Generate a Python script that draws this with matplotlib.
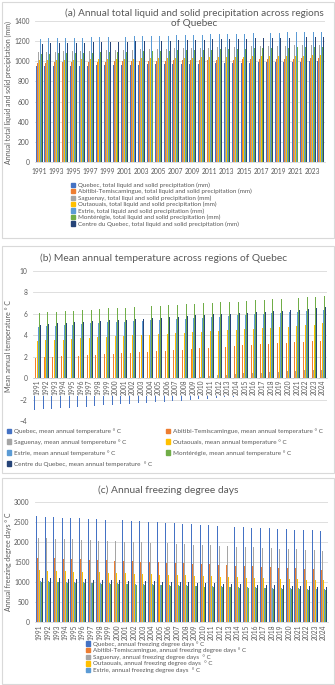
import matplotlib
matplotlib.use("Agg")
import matplotlib.pyplot as plt
from matplotlib.patches import Patch, Rectangle

# ---------------- data ----------------
years = [str(y) for y in range(1991, 2025)]

colors = ["#4472C4", "#ED7D31", "#A5A5A5", "#FFC000", "#5B9BD5", "#70AD47", "#264478"]

# (a) Annual total liquid and solid precipitation (mm)
quebec_p = [950, 950, 952, 954, 955, 957, 958, 960, 961, 963, 965, 966, 968, 969, 970, 972, 973, 975, 976, 978,
            979, 981, 982, 984, 985, 987, 988, 990, 991, 993, 994, 996, 998, 1000]
abitibi_p = [985, 987, 988, 990, 991, 993, 994, 996, 997, 998, 1000, 1001, 1003, 1004, 1005, 1007, 1008, 1009,
             1011, 1012, 1013, 1015, 1016, 1017, 1019, 1020, 1021, 1023, 1024, 1025, 1027, 1028, 1029, 1031]
saguenay_p = [1093, 1095, 1097, 1099, 1101, 1104, 1106, 1108, 1110, 1112, 1114, 1117, 1119, 1121, 1123, 1125,
              1127, 1130, 1132, 1134, 1136, 1138, 1140, 1143, 1145, 1147, 1149, 1151, 1153, 1156, 1158, 1160, 1162, 1165]
outaouais_p = [1010, 1012, 1013, 1015, 1016, 1018, 1019, 1021, 1022, 1024, 1025, 1027, 1028, 1030, 1031, 1033,
               1034, 1036, 1037, 1039, 1040, 1042, 1043, 1045, 1046, 1048, 1049, 1051, 1052, 1054, 1055, 1057, 1059, 1061]
estrie_p = [1225, 1227, 1229, 1231, 1233, 1235, 1237, 1240, 1242, 1244, 1246, 1248, 1250, 1252, 1254, 1256,
            1258, 1261, 1263, 1265, 1267, 1269, 1271, 1273, 1275, 1277, 1279, 1282, 1284, 1286, 1288, 1290, 1292, 1295]
monteregie_p = [1075, 1077, 1079, 1081, 1083, 1085, 1087, 1090, 1092, 1094, 1096, 1098, 1100, 1102, 1104, 1106,
                1108, 1111, 1113, 1115, 1117, 1119, 1121, 1123, 1125, 1127, 1129, 1132, 1134, 1136, 1138, 1140, 1142, 1145]
centre_p = [1175, 1177, 1179, 1181, 1183, 1185, 1187, 1190, 1192, 1194, 1196, 1198, 1200, 1202, 1204, 1206,
            1208, 1211, 1213, 1215, 1217, 1219, 1221, 1223, 1225, 1227, 1229, 1232, 1234, 1236, 1238, 1240, 1242, 1245]

# (b) Mean annual temperature (deg C)
quebec_t = [-2.95, -2.9, -2.85, -2.8, -2.75, -2.7, -2.65, -2.6, -2.55, -2.5, -2.45, -2.4, -2.35, -2.3, -2.25, -2.2,
            -2.15, -2.1, -2.0, -1.95, -1.9, -1.85, -1.8, -1.75, -1.7, -1.65, -1.6, -1.57, -1.52, -1.48, -1.43, -1.39,
            -1.35, -1.3]
abitibi_t = [1.9, 1.95, 2.0, 2.05, 2.05, 2.1, 2.15, 2.2, 2.25, 2.25, 2.3, 2.35, 2.4, 2.45, 2.5, 2.55, 2.6, 2.65,
             2.75, 2.8, 2.85, 2.9, 2.95, 3.0, 3.05, 3.1, 3.15, 3.2, 3.25, 3.3, 3.35, 3.4, 3.45, 3.5]
saguenay_t = [-0.6, -0.55, -0.5, -0.5, -0.45, -0.4, -0.35, -0.3, -0.3, -0.25, -0.2, -0.15, -0.1, -0.05, 0.0, 0.0,
              0.05, 0.05, 0.1, 0.15, 0.2, 0.25, 0.3, 0.4, 0.45, 0.5, 0.5, 0.55, 0.6, 0.65, 0.7, 0.75, 0.8, 0.8]
outaouais_t = [3.5, 3.55, 3.55, 3.6, 3.65, 3.7, 3.75, 3.8, 3.85, 3.9, 3.95, 4.0, 4.0, 4.05, 4.1, 4.15, 4.2, 4.25,
               4.3, 4.35, 4.4, 4.4, 4.45, 4.5, 4.55, 4.6, 4.65, 4.7, 4.75, 4.8, 4.85, 4.95, 5.0, 5.1]
estrie_t = [4.8, 4.85, 4.9, 4.95, 5.0, 5.05, 5.1, 5.15, 5.2, 5.25, 5.25, 5.3, 5.35, 5.4, 5.45, 5.5, 5.5, 5.55,
            5.6, 5.65, 5.7, 5.75, 5.8, 5.85, 5.9, 5.95, 6.0, 6.05, 6.1, 6.15, 6.2, 6.25, 6.3, 6.4]
monteregie_t = [6.1, 6.15, 6.2, 6.25, 6.3, 6.35, 6.4, 6.45, 6.5, 6.55, 6.55, 6.6, 6.65, 6.7, 6.75, 6.8, 6.85, 6.9,
                6.95, 7.0, 7.05, 7.1, 7.1, 7.15, 7.2, 7.25, 7.3, 7.35, 7.4, 7.45, 7.5, 7.55, 7.6, 7.7]
centre_t = [5.0, 5.05, 5.1, 5.15, 5.2, 5.25, 5.3, 5.35, 5.4, 5.45, 5.45, 5.5, 5.55, 5.6, 5.65, 5.7, 5.75, 5.8,
            5.85, 5.9, 5.95, 6.0, 6.0, 6.05, 6.1, 6.15, 6.2, 6.25, 6.3, 6.35, 6.4, 6.45, 6.5, 6.6]

# (c) Annual freezing degree days
quebec_f = [2640, 2630, 2620, 2610, 2600, 2590, 2580, 2570, 2560, 2550, 2540, 2525, 2515, 2500, 2490, 2475,
            2465, 2450, 2440, 2430, 2415, 2405, 2395, 2385, 2370, 2360, 2350, 2340, 2330, 2320, 2310, 2300, 2290, 2280]
abitibi_f = [1610, 1600, 1595, 1585, 1575, 1570, 1560, 1550, 1545, 1535, 1525, 1520, 1510, 1500, 1495, 1485,
             1475, 1465, 1455, 1450, 1440, 1430, 1420, 1410, 1400, 1390, 1380, 1370, 1360, 1350, 1340, 1330, 1320, 1310]
saguenay_f = [2100, 2090, 2080, 2075, 2065, 2055, 2045, 2035, 2030, 2020, 2010, 2000, 1990, 1980, 1975, 1965,
              1955, 1945, 1935, 1925, 1915, 1905, 1895, 1885, 1875, 1865, 1855, 1845, 1835, 1825, 1815, 1805, 1795, 1780]
outaouais_f = [1290, 1285, 1275, 1270, 1260, 1255, 1245, 1240, 1230, 1225, 1215, 1210, 1200, 1195, 1185, 1180,
               1170, 1165, 1155, 1150, 1140, 1135, 1125, 1120, 1110, 1105, 1095, 1090, 1080, 1075, 1065, 1060, 1050, 1040]
estrie_f = [1020, 1015, 1010, 1005, 995, 990, 985, 980, 975, 965, 960, 955, 950, 945, 935, 930, 925, 920, 910,
            905, 900, 895, 885, 880, 875, 870, 860, 855, 850, 845, 840, 835, 825, 820]
monteregie_f = [1000, 995, 990, 985, 975, 970, 965, 960, 950, 945, 940, 935, 925, 920, 915, 910, 900, 895, 890,
                885, 875, 870, 865, 860, 850, 845, 840, 835, 825, 820, 815, 805, 800, 790]
centre_f = [1100, 1095, 1090, 1080, 1075, 1070, 1060, 1055, 1050, 1040, 1035, 1030, 1020, 1015, 1010, 1000, 995,
            990, 980, 975, 970, 960, 955, 950, 940, 935, 930, 920, 915, 910, 900, 895, 885, 870]

labels_a = ["Quebec, total liquid and solid precipitation (mm)",
            "Abitibi-Temiscamingue, total liquid and solid precipitation (mm)",
            "Saguenay, total liqui and solid precipitation (mm)",
            "Outaouais, total liquid and solid precipitation (mm)",
            "Estrie, total liquid and solid precipitation (mm)",
            "Montérégie, total liquid and solid precipitation (mm)",
            "Centre du Quebec, total liquid and solid precipitation (mm)"]
labels_b = ["Quebec, mean annual temperature ° C",
            "Abitibi-Temiscamingue, mean annual temperature ° C",
            "Saguenay, mean annual tempereture ° C",
            "Outaouais, mean annual temperature ° C",
            "Estrie, mean annual temperature ° C",
            "Montérégie, mean annual temperature ° C",
            "Centre du Quebec, mean annual temperature  ° C"]
labels_c = ["Quebec, annual freezing degree days ° C",
            "Abitibi-Temiscamingue, annual freezing degree days ° C",
            "Saguenay, annual freezing degree days  ° C",
            "Outaouais, annual freezing degree days  ° C",
            "Estrie, annual freezing degree days  ° C",
            "Montérégie, annual freezing degree days  ° C",
            "Centre du Quebec, annual freezing degree days  ° C"]

yticks_a = [0, 200, 400, 600, 800, 1000, 1200, 1400]
yticks_b = [-4, -2, 0, 2, 4, 6, 8, 10]
yticks_c = [0, 500, 1000, 1500, 2000, 2500, 3000]

# ---------------- layout ----------------
plt.rcParams['font.family'] = ['Lato', 'DejaVu Sans']
TXT = "#595959"
GRID = "#D9D9D9"
W, H = 335, 685
fig = plt.figure(figsize=(W / 100, H / 100), dpi=100)


def rect(x0, y0, x1, y1):
    return [x0 / W, 1 - y1 / H, (x1 - x0) / W, (y1 - y0) / H]


def frame(y0, y1):
    fig.add_artist(Rectangle((1.5 / W, 1 - y1 / H), 332 / W, (y1 - y0) / H, transform=fig.transFigure,
                             fill=False, edgecolor=GRID, lw=0.8))


def bars(ax, series, ylim, yticks):
    n = len(series)
    gw = 0.78
    w = gw / n
    x = list(range(len(years)))
    for i, (vals, c) in enumerate(zip(series, colors)):
        ax.bar([xi + (i - (n - 1) / 2) * w for xi in x], vals, w, color=c, linewidth=0, zorder=2)
    ax.set_xlim(-0.5, len(years) - 0.5)
    ax.set_ylim(*ylim)
    ax.set_yticks(yticks)
    for yv in yticks:
        ax.axhline(yv, color=GRID, lw=0.6, zorder=0.5)
    ax.set_axisbelow(False)
    for s in ["top", "right", "left"]:
        ax.spines[s].set_visible(False)
    ax.spines["bottom"].set_color(GRID)
    ax.spines["bottom"].set_linewidth(0.6)
    ax.tick_params(axis="y", length=0, labelsize=4.8, labelcolor=TXT, pad=4)
    ax.tick_params(axis="x", length=0, labelsize=4.8, labelcolor=TXT)
    return x


# Panel (a)
frame(1.5, 238)
axa = fig.add_axes(rect(35, 21, 325, 162))
x = bars(axa, [quebec_p, abitibi_p, saguenay_p, outaouais_p, estrie_p, monteregie_p, centre_p],
         (0, 1400), yticks_a)
axa.set_xticks(x[::2])
axa.set_xticklabels(years[::2])
axa.tick_params(axis="x", pad=4)
fig.text(194 / W, 1 - 18.5 / H, "(a) Annual total liquid and solid precipitation across regions\nof Quebec",
         ha="center", va="center", fontsize=7.2, color=TXT, linespacing=1.1)
fig.text(8 / W, 1 - 93 / H, "Annual total liquid and solid precipitation (mm)", rotation=90,
         ha="center", va="center", fontsize=5.0, color=TXT)
fig.legend([Patch(color=c) for c in colors], labels_a, loc="upper left",
           bbox_to_anchor=(71 / W, 1 - 182.5 / H), frameon=False, fontsize=4.5, labelcolor=TXT,
           handlelength=0.7, handleheight=0.7, handletextpad=0.4, labelspacing=0.15,
           borderpad=0, borderaxespad=0)

# Panel (b)
frame(246, 473)
axb = fig.add_axes(rect(33, 271, 327, 421))
x = bars(axb, [quebec_t, abitibi_t, saguenay_t, outaouais_t, estrie_t, monteregie_t, centre_t],
         (-4, 10), yticks_b)
axb.spines["bottom"].set_position(("data", 0))
axb.set_xticks(x)
axb.set_xticklabels(years, rotation=90)
axb.tick_params(axis="x", pad=1)
for lbl in axb.get_xticklabels():
    lbl.set_bbox(dict(facecolor="white", edgecolor="none", pad=0.6))
fig.text(164 / W, 1 - 258 / H, "(b) Mean annual temperature across regions of Quebec",
         ha="center", va="center", fontsize=7.4, color=TXT)
fig.text(9 / W, 1 - 346 / H, "Mean annual temperature ° C", rotation=90,
         ha="center", va="center", fontsize=5.0, color=TXT)
left_idx = [0, 2, 4, 6]
right_idx = [1, 3, 5]
fig.legend([Patch(color=colors[i]) for i in left_idx], [labels_b[i] for i in left_idx], loc="upper left",
           bbox_to_anchor=(7 / W, 1 - 428.5 / H), frameon=False, fontsize=4.6, labelcolor=TXT,
           handlelength=0.7, handleheight=0.7, handletextpad=0.4, labelspacing=0.8,
           borderpad=0, borderaxespad=0)
fig.legend([Patch(color=colors[i]) for i in right_idx], [labels_b[i] for i in right_idx], loc="upper left",
           bbox_to_anchor=(166 / W, 1 - 428.5 / H), frameon=False, fontsize=4.6, labelcolor=TXT,
           handlelength=0.7, handleheight=0.7, handletextpad=0.4, labelspacing=0.8,
           borderpad=0, borderaxespad=0)

# Panel (c)
frame(478, 683.5)
axc = fig.add_axes(rect(35, 502, 328, 622))
x = bars(axc, [quebec_f, abitibi_f, saguenay_f, outaouais_f, estrie_f, monteregie_f, centre_f],
         (0, 3000), yticks_c)
axc.set_xticks(x)
axc.set_xticklabels(years, rotation=90)
axc.tick_params(axis="x", pad=2)
fig.text(168 / W, 1 - 490 / H, "(c) Annual freezing degree days",
         ha="center", va="center", fontsize=7.4, color=TXT)
fig.text(9 / W, 1 - 562 / H, "Annual freezing degree days ° C", rotation=90,
         ha="center", va="center", fontsize=5.0, color=TXT)
fig.legend([Patch(color=c) for c in colors[:5]], labels_c[:5], loc="upper left",
           bbox_to_anchor=(86 / W, 1 - 641 / H), frameon=False, fontsize=4.5, labelcolor=TXT,
           handlelength=0.7, handleheight=0.7, handletextpad=0.4, labelspacing=0.15,
           borderpad=0, borderaxespad=0)

fig.savefig("out.png", dpi=100, facecolor="white")
